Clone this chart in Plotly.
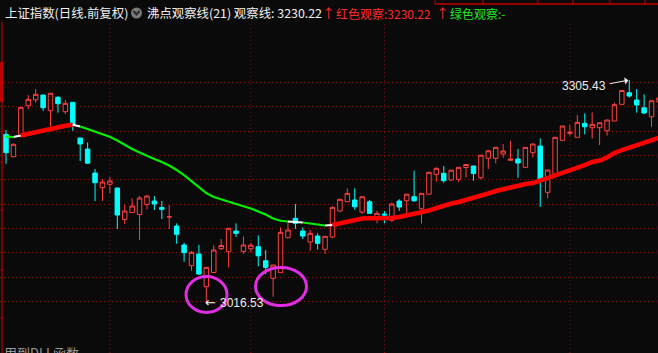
import numpy as np
import plotly.graph_objects as go

W, H = 658, 353
BG = "#0a0a0a"
RED = "#ff4040"
CYAN = "#00ffff"
GRID = "#8c0a0a"

# ---- data (one entry per trading day) ----
opens = [3234.8, 3205.7, 3232.6, 3272.0, 3279.8, 3285.9, 3265.5, 3282.9, 3264.2, 3276.4,
         3230.0, 3215.7, 3184.5, 3165.4, 3169.8, 3165.0, 3124.1, 3133.2, 3130.6, 3143.6,
         3148.1, 3139.7, 3127.3, 3115.6, 3090.9, 3064.0, 3079.2, 3036.7, 3055.2, 3086.1,
         3082.2, 3109.1, 3082.7, 3086.0, 3088.7, 3070.5, 3047.6, 3054.9, 3100.4, 3125.6,
         3109.1, 3094.8, 3102.6, 3085.3, 3101.3, 3135.1, 3147.2, 3149.4, 3133.6, 3147.2,
         3126.3, 3131.2, 3123.0, 3148.1, 3148.5, 3153.7, 3138.1, 3157.0, 3182.8, 3184.1,
         3175.4, 3176.3, 3191.7, 3193.6, 3178.4, 3203.6, 3203.6, 3209.2, 3201.0, 3202.7,
         3191.9, 3210.9, 3219.6, 3159.4, 3181.0, 3227.0, 3236.1, 3230.9, 3249.1, 3243.4,
         3243.4, 3239.5, 3252.1, 3273.8, 3288.9, 3279.4, 3269.4, 3257.7, 3276.8]
highs = [3240.4, 3222.9, 3270.3, 3285.9, 3293.7, 3286.2, 3288.5, 3284.6, 3279.4, 3276.8,
         3230.3, 3224.4, 3189.7, 3176.7, 3179.3, 3165.3, 3143.8, 3151.6, 3154.6, 3155.9,
         3154.6, 3148.1, 3142.9, 3119.1, 3093.9, 3083.1, 3090.9, 3062.3, 3090.3, 3098.7,
         3113.0, 3119.1, 3102.0, 3093.5, 3103.3, 3084.4, 3065.2, 3113.9, 3119.9, 3144.2,
         3113.9, 3110.8, 3106.1, 3102.6, 3141.0, 3150.7, 3164.6, 3164.6, 3154.0, 3149.4,
         3135.4, 3135.1, 3145.9, 3150.5, 3157.2, 3187.5, 3158.5, 3186.2, 3191.9, 3193.6,
         3188.4, 3192.3, 3195.8, 3193.9, 3208.0, 3214.4, 3218.3, 3222.0, 3226.4, 3215.7,
         3218.3, 3222.5, 3229.6, 3188.7, 3231.3, 3245.9, 3246.9, 3259.9, 3261.9, 3263.4,
         3250.2, 3253.7, 3276.2, 3292.0, 3305.43, 3293.7, 3286.8, 3278.8, 3282.7]
lows = [3196.6, 3205.3, 3232.0, 3267.3, 3276.2, 3265.5, 3244.7, 3262.9, 3261.2, 3239.5,
        3200.1, 3196.2, 3148.1, 3148.1, 3158.1, 3111.7, 3118.2, 3132.5, 3097.4, 3137.3,
        3136.4, 3124.7, 3111.7, 3092.6, 3069.2, 3057.5, 3051.9, 3016.53, 3054.5, 3084.4,
        3061.9, 3101.3, 3079.6, 3081.8, 3063.2, 3053.2, 3023.7, 3054.5, 3100.0, 3111.7,
        3098.7, 3083.5, 3085.1, 3079.2, 3100.0, 3134.2, 3146.8, 3136.8, 3131.6, 3131.9,
        3119.1, 3119.1, 3121.2, 3135.4, 3132.5, 3147.2, 3119.1, 3156.6, 3173.2, 3171.9,
        3174.1, 3172.6, 3178.4, 3174.5, 3176.3, 3189.7, 3197.1, 3204.4, 3200.8, 3178.4,
        3191.7, 3204.9, 3140.7, 3151.6, 3180.6, 3226.5, 3233.0, 3230.7, 3234.8, 3229.1,
        3220.9, 3233.0, 3251.9, 3273.6, 3282.4, 3262.9, 3261.2, 3244.7, 3275.9]
closes = [3210.9, 3221.8, 3269.9, 3280.3, 3286.8, 3269.4, 3288.1, 3274.6, 3275.1, 3247.8,
          3222.2, 3197.3, 3171.9, 3172.8, 3174.1, 3129.9, 3135.1, 3141.6, 3152.0, 3154.6,
          3144.2, 3137.3, 3127.6, 3104.8, 3080.9, 3081.4, 3053.2, 3061.9, 3084.4, 3090.3,
          3112.6, 3106.1, 3090.9, 3090.7, 3076.9, 3061.9, 3064.9, 3107.4, 3110.4, 3119.1,
          3102.6, 3106.1, 3093.1, 3102.2, 3139.9, 3150.3, 3158.1, 3140.7, 3153.7, 3132.1,
          3132.1, 3130.0, 3144.2, 3140.3, 3157.0, 3148.4, 3158.1, 3185.4, 3190.6, 3174.5,
          3188.2, 3191.9, 3195.6, 3183.9, 3207.7, 3213.4, 3217.9, 3213.1, 3202.7, 3197.5,
          3217.9, 3222.2, 3176.7, 3188.4, 3230.9, 3245.6, 3237.4, 3250.4, 3244.7, 3247.8,
          3249.9, 3253.4, 3273.3, 3291.8, 3284.6, 3272.9, 3262.5, 3278.5, 3282.0]
# 沸点观察线(21)
ma21 = [3231.7, 3231.3, 3233.3, 3235.6, 3238.2, 3240.0, 3242.1, 3244.3, 3246.0, 3247.3,
        3245.0, 3241.7, 3237.8, 3234.6, 3231.7, 3226.8, 3220.9, 3215.7, 3211.2, 3206.6,
        3202.7, 3198.8, 3194.3, 3188.4, 3181.9, 3174.1, 3165.7, 3158.5, 3153.3, 3150.1,
        3147.2, 3144.2, 3141.4, 3138.4, 3134.5, 3130.6, 3125.4, 3122.5, 3121.5, 3121.2,
        3120.2, 3118.9, 3117.6, 3116.3, 3116.9, 3119.1, 3121.2, 3123.8, 3125.4, 3125.6,
        3125.6, 3125.6, 3126.0, 3127.3, 3129.3, 3131.2, 3133.2, 3135.8, 3139.0, 3142.3,
        3144.9, 3146.8, 3149.4, 3151.4, 3154.0, 3157.9, 3161.1, 3163.7, 3166.3, 3168.9,
        3170.2, 3171.5, 3174.8, 3177.4, 3181.3, 3185.2, 3187.8, 3191.7, 3194.9, 3198.8,
        3200.8, 3204.7, 3210.5, 3214.4, 3217.7, 3221.6, 3224.8, 3227.4, 3230.22]
# colour state of the line between days (start, end, state)
ma_runs = [(0, 1, "green"), (1, 2, "white"), (2, 9, "red"), (9, 10, "white"),
           (10, 38, "green"), (38, 40, "white"), (40, 43, "green"), (43, 44, "white"),
           (44, 88, "red")]
month_starts = [14, 33, 51, 76]
hi_idx, hi_text = 84, "3305.43"
lo_idx, lo_text = 27, "3016.53"
watch_text = "3230.22"

x = list(range(len(opens)))


def px(v):
    return v / W


def py(v):
    return 1 - v / H


fig = go.Figure()
fig.add_trace(go.Candlestick(
    x=x, open=opens, high=highs, low=lows, close=closes,
    increasing=dict(line=dict(color=RED, width=1), fillcolor=BG),
    decreasing=dict(line=dict(color=CYAN, width=1), fillcolor=CYAN),
    whiskerwidth=0, hoverinfo="skip"))

styles = {"red": ("#ff0000", 4.5), "green": ("#00f000", 2.2), "white": ("#ffffff", 2.2)}
for a, b, state in ma_runs:
    col, w = styles[state]
    fig.add_trace(go.Scatter(x=x[a:b + 1], y=ma21[a:b + 1], mode="lines",
                             line=dict(color=col, width=w), hoverinfo="skip"))

shapes = []
for m in month_starts:
    shapes.append(dict(type="line", xref="x", yref="paper", x0=m, x1=m, y0=0, y1=py(22),
                       line=dict(color=GRID, width=1, dash="1px,3px"), layer="below"))
# window frame bits
shapes.append(dict(type="line", xref="paper", yref="paper", x0=px(2), x1=px(2), y0=0, y1=py(22),
                   line=dict(color="#9a0000", width=1.5)))
shapes.append(dict(type="rect", xref="paper", yref="paper", x0=0, x1=px(3), y0=py(102), y1=py(62),
                   line=dict(width=0), fillcolor="#c00000"))
for ty in [162, 210, 270, 318]:
    shapes.append(dict(type="line", xref="paper", yref="paper", x0=0, x1=px(3), y0=py(ty), y1=py(ty),
                       line=dict(color="#9a0000", width=1)))
shapes.append(dict(type="line", xref="paper", yref="paper", x0=px(435), x1=1, y0=py(4), y1=py(4),
                   line=dict(color="#c00000", width=1.5)))
for tx in [435, 483, 538, 573, 610, 645]:
    shapes.append(dict(type="line", xref="paper", yref="paper", x0=px(tx), x1=px(tx), y0=py(4), y1=1,
                       line=dict(color="#c00000", width=1)))
# marker circles
MAG = "#e22ee2"
shapes.append(dict(type="circle", xref="paper", yref="paper", x0=px(186), x1=px(227),
                   y0=py(312.5), y1=py(276.5), line=dict(color=MAG, width=3)))
shapes.append(dict(type="circle", xref="paper", yref="paper", x0=px(255.5), x1=px(306.5),
                   y0=py(305.5), y1=py(267.5), line=dict(color=MAG, width=3)))
# title icon
shapes.append(dict(type="circle", xref="paper", yref="paper", x0=px(131), x1=px(142),
                   y0=py(18.5), y1=py(7.5), line=dict(width=0), fillcolor="#7a7a7a"))
shapes.append(dict(type="path", xref="paper", yref="paper",
                   path=f"M {px(133.5)} {py(11)} L {px(136.5)} {py(14.5)} L {px(139.5)} {py(11)}",
                   line=dict(color="#2a2a2a", width=2)))

CJK = "Noto Sans CJK SC"
ann = []


def txt(t, xp, yp, color, size, family=CJK):
    ann.append(dict(text=t, xref="paper", yref="paper", x=px(xp), y=py(yp), xanchor="left",
                    yanchor="middle", showarrow=False, font=dict(color=color, size=size, family=family)))


txt("上证指数(日线.前复权)", 3, 13, "#f0f0f0", 12.4)
txt("沸点观察线(21) 观察线: " + watch_text, 145, 13, "#f0f0f0", 12.4)
txt("↑", 320, 13, "#ff2a2a", 13)
txt("红色观察:" + watch_text, 334, 13.5, "#ff2a2a", 12)
txt("↑", 434, 13, "#ff2a2a", 13)
txt("绿色观察:-", 448, 13.5, "#22e822", 12)
txt("用到DLL函数", 2, 352, "#9a9a9a", 13)
txt(hi_text, 560, 85.5, "#eeeeee", 12, "Liberation Sans")
txt("←", 203, 302, "#eeeeee", 13, "DejaVu Sans")
txt(lo_text, 218, 302.5, "#eeeeee", 12, "Liberation Sans")
ann.append(dict(x=hi_idx, y=highs[hi_idx], xref="x", yref="y", text="", showarrow=True,
                ax=-21, ay=4, arrowcolor="#eeeeee", arrowwidth=1, arrowhead=1, arrowsize=1.2,
                standoff=1))

fig.update_layout(
    width=W, height=H, margin=dict(l=0, r=0, t=0, b=0),
    paper_bgcolor=BG, plot_bgcolor=BG, showlegend=False,
    boxgap=0.23, boxgroupgap=0.22,
    xaxis=dict(range=[-0.809, 87.87], showgrid=False, zeroline=False, showticklabels=False,
               rangeslider=dict(visible=False), fixedrange=True),
    yaxis=dict(range=[2950.53, 3409.43], tickvals=list(np.linspace(3017.2, 3302.4, 10)),
               showticklabels=False, gridcolor=GRID, gridwidth=1, griddash="1px,3px",
               zeroline=False, fixedrange=True),
    shapes=shapes, annotations=ann,
)

fig.write_html("out.html", config={"displayModeBar": False})
